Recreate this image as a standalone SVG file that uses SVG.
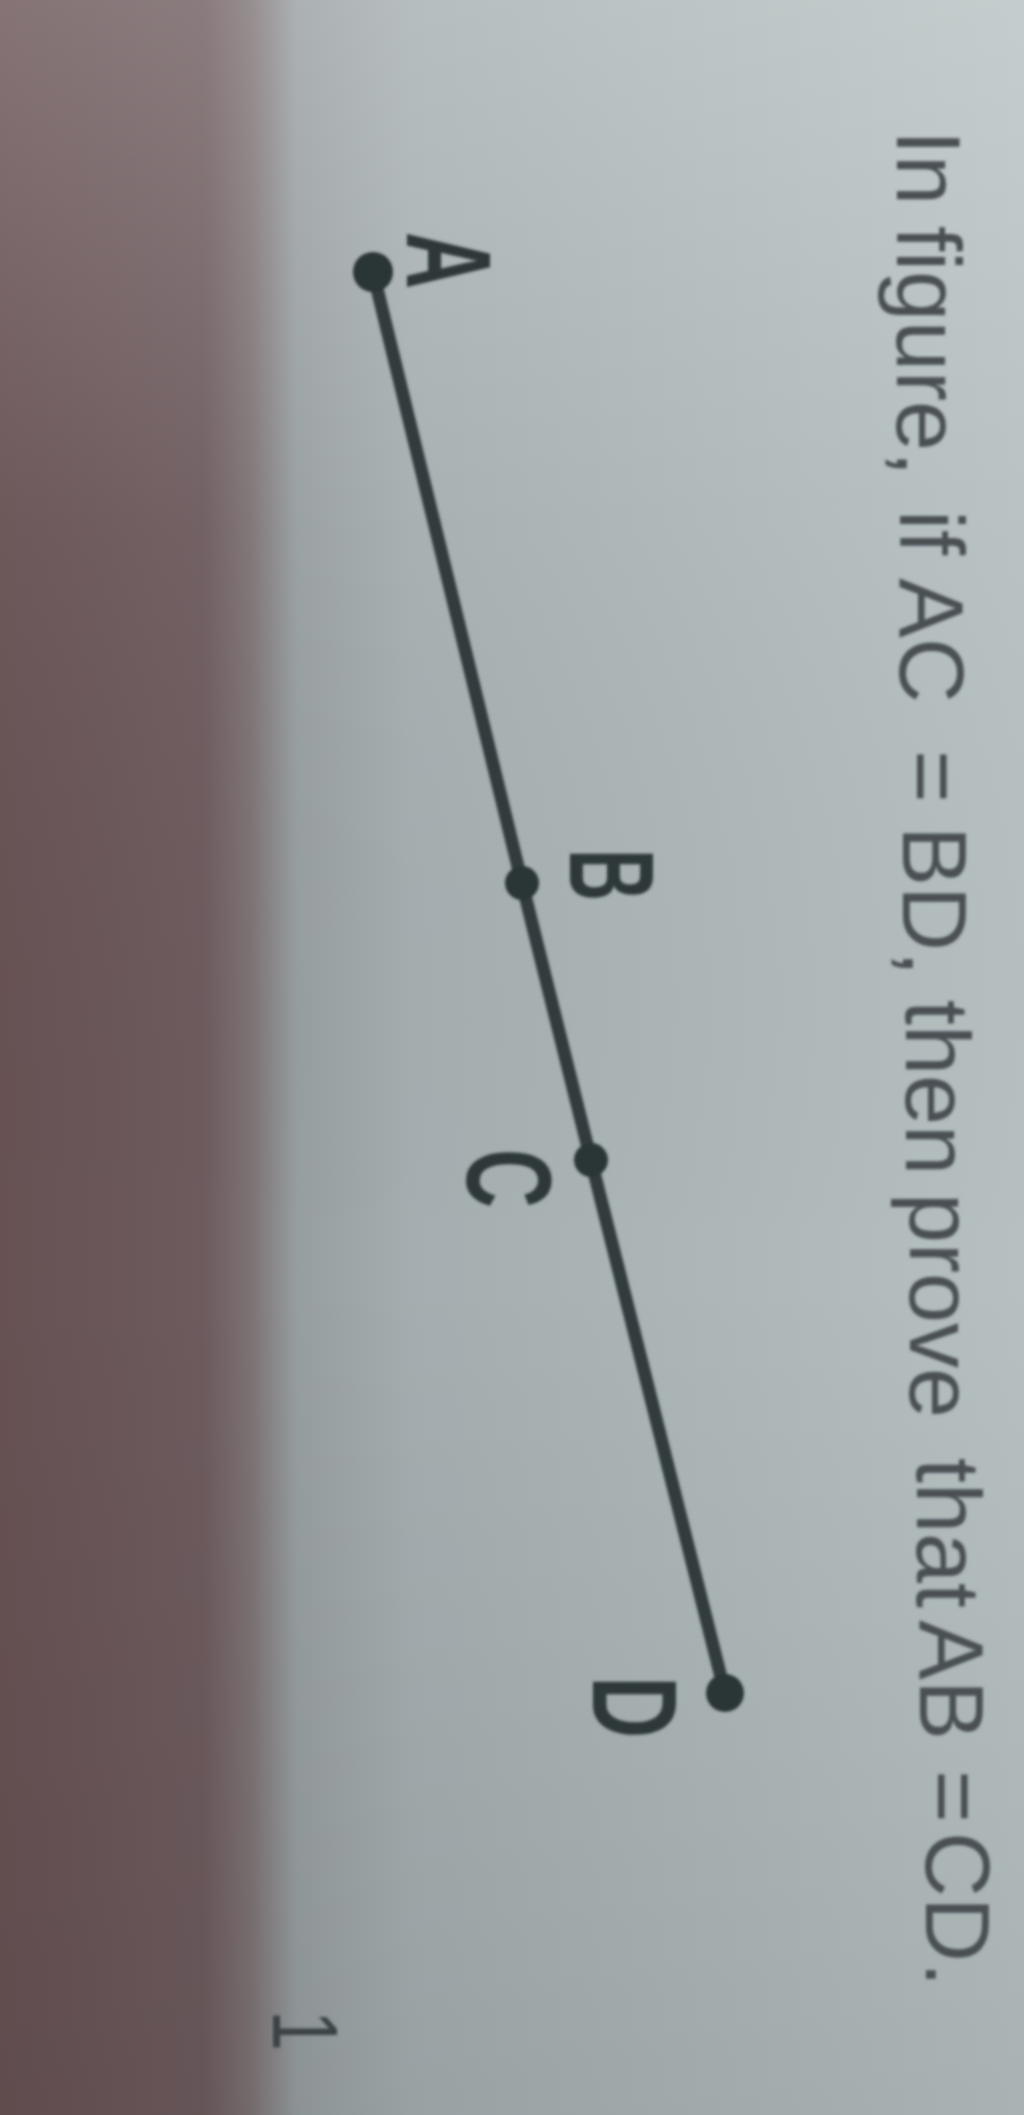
<svg xmlns="http://www.w3.org/2000/svg" width="1024" height="2115" viewBox="0 0 1024 2115">
<defs>
<linearGradient id="bgH" x1="0" y1="0" x2="1024" y2="0" gradientUnits="userSpaceOnUse">
<stop offset="0" stop-color="#675153"/>
<stop offset="0.2" stop-color="#6d5b5e"/>
<stop offset="0.245" stop-color="#7c7274"/>
<stop offset="0.29" stop-color="#979ea0"/>
<stop offset="0.4" stop-color="#a4adaf"/>
<stop offset="0.7" stop-color="#adb7b8"/>
<stop offset="1" stop-color="#b6c0c1"/>
</linearGradient>
<linearGradient id="bgV" x1="0" y1="0" x2="0" y2="2115" gradientUnits="userSpaceOnUse">
<stop offset="0" stop-color="#ffffff" stop-opacity="0.2"/>
<stop offset="0.25" stop-color="#ffffff" stop-opacity="0.04"/>
<stop offset="0.6" stop-color="#000000" stop-opacity="0"/>
<stop offset="1" stop-color="#000000" stop-opacity="0.07"/>
</linearGradient>
<filter id="soft" x="-5%" y="-5%" width="110%" height="110%"><feGaussianBlur stdDeviation="1.4"/></filter>
<style>
.q{font-family:"Liberation Sans",Arial,sans-serif;font-size:90px;fill:#485053}
.lbl{font-family:"Liberation Sans",Arial,sans-serif;font-weight:bold;font-size:120px;fill:#2f3739}
.pg{font-family:"Liberation Sans",Arial,sans-serif;font-size:92px;fill:#3b4345}
.pt{fill:#2c3436}
.seg{stroke:#323a3c;stroke-width:13;stroke-linecap:round;fill:none}
</style>
</defs>
<g id="background">
<rect x="0" y="0" width="1024" height="2115" fill="url(#bgH)"/>
<rect x="0" y="0" width="1024" height="2115" fill="url(#bgV)"/>
</g>
<g filter="url(#soft)">
<g id="question">
<text class="q" transform="rotate(90)"><tspan x="130" y="-897">In</tspan> <tspan x="226" y="-897">figure,</tspan> <tspan x="510" y="-900">if</tspan> <tspan x="578" y="-900">AC</tspan> <tspan x="750" y="-902">=</tspan> <tspan x="826" y="-903">BD,</tspan> <tspan x="1000" y="-906">then</tspan> <tspan x="1193" y="-910">prove</tspan> <tspan x="1458" y="-917">that</tspan> <tspan x="1620" y="-920">AB</tspan> <tspan x="1770" y="-923">=</tspan> <tspan x="1832" y="-926">CD.</tspan></text>
</g>
<g id="connectors">
<line class="seg" x1="373" y1="272" x2="522" y2="883"/>
<line class="seg" x1="522" y1="883" x2="591" y2="1160"/>
<line class="seg" x1="591" y1="1160" x2="725" y2="1693"/>
</g>
<g id="node-A">
<circle class="pt" cx="373" cy="272" r="20"/>
<text class="lbl" transform="translate(407,232) rotate(90) scale(0.66,1)">A</text>
</g>
<g id="node-B">
<circle class="pt" cx="522" cy="883" r="17"/>
<text class="lbl" transform="translate(570,849) rotate(90) scale(0.6,1)">B</text>
</g>
<g id="node-C">
<circle class="pt" cx="591" cy="1160" r="17"/>
<text class="lbl" transform="translate(467,1149) rotate(90) scale(0.68,1)">C</text>
</g>
<g id="node-D">
<circle class="pt" cx="725" cy="1693" r="19"/>
<text class="lbl" transform="translate(593,1676) rotate(90) scale(0.72,1)">D</text>
</g>
<g id="page-number">
<text class="pg" transform="translate(273,2010) rotate(90) scale(0.8,1)">1</text>
</g>
</g>
</svg>
